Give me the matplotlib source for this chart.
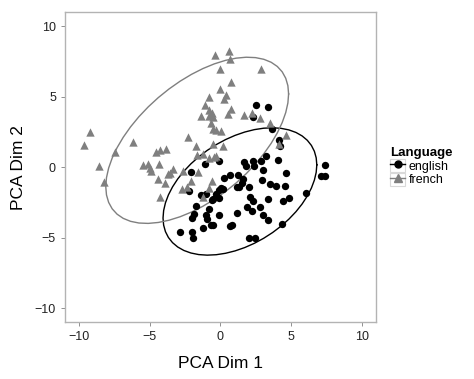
#!/usr/bin/env python3
"""PCA scatter of English vs French speakers with 95% ellipses."""

import numpy as np
import matplotlib

matplotlib.use("Agg")
import matplotlib.pyplot as plt
from matplotlib.lines import Line2D
from matplotlib.patches import Patch

plt.rcParams["font.family"] = ["Liberation Sans", "DejaVu Sans"]

# english group (PCA Dim 1, PCA Dim 2)
ENGLISH_X = [
    2.53, 3.36, 2.29, 3.64, 4.14, 4.23, -0.07, -1.09, 1.66, 1.82,
    2.34, 2.41, 2.88, 3.24, 4.07, 3.00, 4.61, 7.42, 7.09, 7.42,
    -2.08, 0.28, 0.69, 1.23, 1.58, 1.54, 2.93, 1.99, 1.18, 1.35,
    0.05, 0.21, -0.07, -2.20, -1.37, -1.01, -0.31, -0.59, -0.50, -0.12,
    3.52, 3.90, 4.59, 3.36, 2.10, 2.29, 4.42, 4.84, 6.08, -1.72,
    -0.78, 1.87, 2.25, 2.77, 1.16, -0.12, -1.84, -2.04, -1.01, -0.97,
    3.00, 3.40, -0.66, -0.54, 0.83, 0.71, -1.26, -2.86, -2.04, -1.96,
    4.37, 1.99, 2.48,
]
ENGLISH_Y = [
    4.38, 4.26, 3.57, 2.72, 1.96, 1.48, 0.44, 0.23, 0.37, 0.06,
    0.41, 0.06, 0.46, 0.82, 0.48, -0.18, -0.41, 0.18, -0.65, -0.65,
    -0.34, -0.77, -0.53, -0.53, -0.84, -1.13, -0.89, -1.41, -1.44, -1.44,
    -1.48, -1.53, -1.65, -1.72, -1.96, -1.89, -1.89, -2.31, -2.24, -2.19,
    -1.20, -1.32, -1.37, -2.26, -2.15, -2.43, -2.41, -2.22, -1.84, -2.74,
    -2.98, -2.86, -3.10, -2.83, -3.26, -3.38, -3.31, -3.62, -3.43, -3.69,
    -3.43, -3.74, -4.09, -4.09, -4.09, -4.21, -4.33, -4.57, -4.62, -5.04,
    -4.05, -5.04, -5.04,
]

# french group
FRENCH_X = [
    -0.38, 0.64, 0.71, 0.00, 2.88, 0.78, 0.00, -0.78, 0.40, 0.28,
    -1.11, 0.76, -0.78, -1.35, -0.50, -0.78, -0.60, 0.52, 1.70, 2.25,
    2.81, -0.66, -0.54, -0.31, 0.05, 3.48, 4.61, 4.14, -9.24, -9.62,
    -7.47, -6.17, -8.58, -2.32, -1.70, -0.54, 0.21, -4.56, -4.26, -3.83,
    -5.46, -5.10, -4.33, -4.96, -4.92, -1.68, -1.26, -0.83, -0.43, -0.31,
    -4.42, -3.90, -3.74, -3.57, -3.38, -8.23, -4.26, -2.74, -2.36, -2.08,
    -1.61, -2.67, -0.59, -1.26, -0.78,
]
FRENCH_Y = [
    7.93, 8.22, 7.70, 6.94, 6.94, 6.06, 5.52, 5.00, 5.11, 4.80,
    4.38, 4.14, 4.04, 3.62, 3.55, 3.60, 3.85, 3.74, 3.67, 3.81,
    3.47, 3.10, 2.74, 2.62, 2.55, 3.10, 2.31, 1.67, 2.48, 1.55,
    1.05, 1.81, 0.11, 2.12, 1.48, 1.65, 1.53, 1.10, 1.20, 1.30,
    0.18, 0.25, 0.25, -0.06, -0.30, 0.89, 0.96, 0.63, 0.73, 0.77,
    -0.82, -1.15, -0.48, -0.41, -0.13, -1.05, -2.12, -1.53, -1.44, -0.96,
    -0.34, -0.30, -1.01, -2.15, -1.48,
]

X_TICKS = [-10, -5, 0, 5, 10]
Y_TICKS = [-10, -5, 0, 5, 10]


def cov_trob(pts, nu=5, maxit=25, tol=0.01):
    """Multivariate-t robust location/scatter (as MASS::cov.trob)."""
    n, p = pts.shape
    loc = pts.mean(axis=0)
    w = np.ones(n)
    for _ in range(maxit):
        w0 = w
        X = pts - loc
        _, d, vt = np.linalg.svd(np.sqrt(w / w.sum())[:, None] * X, full_matrices=False)
        wX = X @ vt.T / d
        Q = (wX ** 2).sum(axis=1)
        w = (nu + p) / (nu + Q)
        loc = (w[:, None] * pts).sum(axis=0) / w.sum()
        if np.all(np.abs(w - w0) < tol):
            break
    X = pts - loc
    cov = (np.sqrt(w)[:, None] * X).T @ (np.sqrt(w)[:, None] * X) / n
    return loc, cov


def conf_ellipse(x, y, level=0.95, segments=51):
    """Ellipse like ggplot2's stat_ellipse(type='t')."""
    pts = np.column_stack([x, y])
    n = len(pts)
    center, cov = cov_trob(pts)
    # F(2, n-1) quantile in closed form
    dfd = n - 1
    fq = (dfd / 2.0) * ((1.0 - level) ** (-2.0 / dfd) - 1.0)
    radius = np.sqrt(2.0 * fq)
    theta = np.linspace(0, 2 * np.pi, segments)
    circle = np.column_stack([np.cos(theta), np.sin(theta)])
    chol = np.linalg.cholesky(cov).T
    ell = center + radius * circle @ chol
    return ell[:, 0], ell[:, 1]


fig = plt.figure(figsize=(4.74, 3.79), dpi=100)
ax = fig.add_axes([0.137, 0.150, 0.656, 0.818])

ax.scatter(ENGLISH_X, ENGLISH_Y, s=28, marker="o", color="black", linewidths=0, zorder=3)
ax.scatter(FRENCH_X, FRENCH_Y, s=36, marker="^", color="#7f7f7f", linewidths=0, zorder=3)

ex, ey = conf_ellipse(ENGLISH_X, ENGLISH_Y)
fx, fy = conf_ellipse(FRENCH_X, FRENCH_Y)
ax.plot(ex, ey, color="black", linewidth=1.0, zorder=2)
ax.plot(fx, fy, color="#7f7f7f", linewidth=1.0, zorder=2)

ax.set_xlim(-11, 11)
ax.set_ylim(-11, 11)
ax.set_xticks(X_TICKS)
ax.set_yticks(Y_TICKS)
ax.tick_params(colors="#222222", labelsize=9, length=3, width=0.6)
ax.tick_params(axis="both", color="#7f7f7f")
for spine in ax.spines.values():
    spine.set_color("#b3b3b3")
    spine.set_linewidth(1.0)

ax.set_xlabel("PCA Dim 1", fontsize=12.5, labelpad=9)
ax.set_ylabel("PCA Dim 2", fontsize=12.5, labelpad=6)

key_box = dict(facecolor="white", edgecolor="#d9d9d9", linewidth=0.8)
handles = [
    (Patch(**key_box),
     Line2D([], [], color="black", marker="o", markersize=5, linewidth=1.0)),
    (Patch(**key_box),
     Line2D([], [], color="#7f7f7f", marker="^", markersize=5.5, linewidth=1.0)),
]
leg = fig.legend(
    handles=handles,
    labels=["english", "french"],
    title="Language",
    loc="center left",
    bbox_to_anchor=(0.805, 0.56),
    frameon=False,
    fontsize=9,
    title_fontproperties={"weight": "bold", "size": 9.5},
    handlelength=1.2,
    handleheight=1.2,
    handletextpad=0.25,
    labelspacing=0.0,
    borderpad=0.2,
)
leg._legend_box.align = "left"

fig.savefig("out.png", dpi=100)
